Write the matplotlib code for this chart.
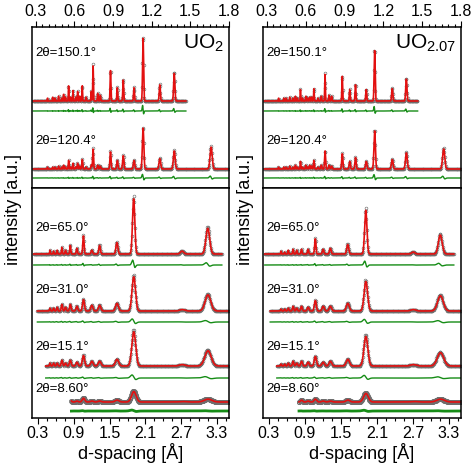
import numpy as np
import matplotlib
matplotlib.use("Agg")
import matplotlib.pyplot as plt
from matplotlib.ticker import MultipleLocator

plt.rcParams['font.family'] = ['Liberation Sans', 'DejaVu Sans']
plt.rcParams['mathtext.fontset'] = 'custom'
plt.rcParams['mathtext.rm'] = 'Liberation Sans'

# ---- data: peak d-spacing [A] and peak height [a.u.] ----
samples = ["UO$_2$", "UO$_{2.07}$"]
angles_top = ["150.1", "120.4"]
angles_bot = ["65.0", "31.0", "15.1", "8.60"]

# backscattering banks (top panels)
uo2_hi_pos = [0.39, 0.43, 0.45, 0.476, 0.50, 0.515, 0.53, 0.554, 0.57, 0.588, 0.61, 0.624,
              0.64, 0.66, 0.69, 0.73, 0.744, 0.78, 0.80, 0.879, 0.932, 0.978, 1.062,
              1.132, 1.262, 1.374, 1.66]
uo2_150_int = [3, 4, 3, 5, 3, 7, 4, 16, 4, 11, 4, 10, 5, 16, 4, 10, 37, 8, 6, 32, 14, 22, 14,
               66, 17, 29, 0]
uo2_120_int = [2, 2, 2, 3, 2, 4, 2, 9, 2, 6, 2, 6, 3, 10, 2, 4, 21, 4, 3, 18, 9, 14, 9,
               43, 11, 19, 23]

uo207_hi_pos = [0.39, 0.43, 0.45, 0.476, 0.50, 0.52, 0.535, 0.559, 0.575, 0.60, 0.615, 0.63,
                0.645, 0.663, 0.695, 0.72, 0.749, 0.78, 0.80, 0.882, 0.94, 0.984, 1.067,
                1.132, 1.268, 1.377, 1.665]
uo207_150_int = [3, 3, 3, 4, 3, 5, 3, 12, 3, 5, 3, 4, 4, 13, 3, 5, 28, 6, 5, 26, 12, 17, 12,
                 53, 13, 23, 0]
uo207_120_int = [2, 2, 2, 3, 2, 4, 2, 8, 2, 4, 2, 4, 3, 9, 2, 4, 19, 4, 3, 16, 8, 12, 8,
                 40, 10, 17, 21]

# low-angle banks (bottom panels)
uo2_lo_pos = [0.50, 0.56, 0.62, 0.70, 0.76, 0.84, 0.95, 1.06, 1.20, 1.33, 1.62, 1.90, 2.71, 3.14]
uo2_65_int = [4, 3, 4, 7, 4, 9, 6, 19, 4, 9, 12, 58, 3, 27]
uo2_31_int = [3, 3, 4, 7, 4, 7, 5, 12, 6, 6, 8, 36, 1.5, 17]
uo2_15_int = [3, 3, 3, 6, 3, 6, 4, 11, 5, 5, 7, 36, 1.5, 16]
uo2_8_int = [1, 1, 1, 2, 1, 2, 1, 4, 1, 1, 2, 11, 0.5, 3]

uo207_lo_pos = [0.50, 0.56, 0.62, 0.70, 0.76, 0.84, 0.95, 1.07, 1.20, 1.32, 1.61, 1.91, 2.70, 3.15]
uo207_65_int = [3, 2, 4, 5, 4, 5, 5, 16, 5, 6, 10, 46, 2, 20]
uo207_31_int = [2, 2, 3, 5, 3, 5, 4, 11, 5, 5, 8, 31, 1.5, 16]
uo207_15_int = [2, 2, 3, 5, 3, 5, 4, 10, 4, 5, 7, 31, 1.5, 14]
uo207_8_int = [1, 1, 1, 2, 1, 2, 1, 3, 1, 1, 2, 9, 0.5, 3]

# measured d-range of each bank
top_range = {"150.1": (0.28, 1.465), "120.4": (0.28, 1.80)}
bot_range_uo2 = {"65.0": (0.23, 3.38), "31.0": (0.29, 3.50), "15.1": (0.43, 3.50), "8.60": (0.86, 3.50)}
bot_range_uo207 = {"65.0": (0.23, 3.38), "31.0": (0.32, 3.50), "15.1": (0.43, 3.50), "8.60": (0.80, 3.50)}

# relative peak width (sigma / d) of each bank
rel_width = {"150.1": 0.0035, "120.4": 0.005, "65.0": 0.010, "31.0": 0.015, "15.1": 0.017, "8.60": 0.020}


def profile(x, pos, amp, rw, shift=0.0):
    y = np.zeros_like(x)
    for p, a in zip(pos, amp):
        s = rw * p
        y += a * np.exp(-0.5 * ((x - p - shift * s) / s) ** 2)
    return y


def draw_bank(ax, label, pos, amp, drange, base, gbase, label_y, heavy=False):
    x = np.linspace(drange[0], drange[1], 2500)
    rw = rel_width[label]
    obs = profile(x, pos, amp, rw)
    calc = profile(x, pos, np.array(amp) * 0.95, rw, shift=0.15)
    diff = obs - calc
    ax.plot(x, obs + base, 'o', color='#6e6e6e', mfc='none', ms=3.0 if heavy else 2.0,
            mew=0.6 if heavy else 0.45, markevery=6, zorder=1)
    ax.plot(x, calc + base, '-', color='#e31010', lw=1.2, zorder=2)
    ax.plot(x, diff * 0.7 + gbase, '-', color='#168c16', lw=2.0 if heavy else 1.0, zorder=2)
    ax.text(0.015, label_y, "2\u03b8=" + label + "\u00b0", transform=ax.get_yaxis_transform(),
            fontsize=9.5, va='center', ha='left')


W, H = 474, 474
fig = plt.figure(figsize=(4.74, 4.74), dpi=100)


def rect(x0, x1, y0, y1):
    return [x0 / W, 1 - y1 / H, (x1 - x0) / W, (y1 - y0) / H]


columns = [
    (32, 229, uo2_hi_pos, [uo2_150_int, uo2_120_int], uo2_lo_pos,
     [uo2_65_int, uo2_31_int, uo2_15_int, uo2_8_int], bot_range_uo2, 224),
    (263, 461, uo207_hi_pos, [uo207_150_int, uo207_120_int], uo207_lo_pos,
     [uo207_65_int, uo207_31_int, uo207_15_int, uo207_8_int], bot_range_uo207, 456),
]
top_offsets = [(87, 77, 135), (19, 10, 47)]
bot_offsets = [(164, 153, 190), (107, 96, 128), (52, 40, 71), (16, 7, 29)]

for i, (x0, x1, hi_pos, hi_ints, lo_pos, lo_ints, brange, sx) in enumerate(columns):
    ax_t = fig.add_axes(rect(x0, x1, 27, 188))
    ax_b = fig.add_axes(rect(x0, x1, 188, 418))

    for lab, ints, (b, g, ly) in zip(angles_top, hi_ints, top_offsets):
        draw_bank(ax_t, lab, hi_pos, ints, top_range[lab], b, g, ly)
    for lab, ints, (b, g, ly) in zip(angles_bot, lo_ints, bot_offsets):
        draw_bank(ax_b, lab, lo_pos, ints, brange[lab], b, g, ly, heavy=(lab == "8.60"))

    ax_t.set_xlim(0.27, 1.80)
    ax_t.set_ylim(0, 161)
    ax_b.set_xlim(0.20, 3.50)
    ax_b.set_ylim(0, 230)

    ax_t.xaxis.set_minor_locator(MultipleLocator(0.05))
    ax_t.set_xticks(np.arange(0.3, 1.81, 0.3))
    ax_t.set_xticklabels(["%.1f" % v for v in np.arange(0.3, 1.81, 0.3)])
    ax_t.xaxis.tick_top()
    ax_t.tick_params(axis='x', which='both', direction='out', labelsize=11.5, pad=2)
    ax_t.tick_params(axis='x', which='major', length=4, width=0.8)
    ax_t.tick_params(axis='x', which='minor', length=2.5, width=0.8)

    ax_b.set_xticks(np.arange(0.3, 3.31, 0.6))
    ax_b.set_xticklabels(["%.1f" % v for v in np.arange(0.3, 3.31, 0.6)])
    ax_b.xaxis.set_minor_locator(MultipleLocator(0.15))
    ax_b.tick_params(axis='x', which='both', direction='out', labelsize=11.5, pad=2)
    ax_b.tick_params(axis='x', which='major', length=4, width=0.8)
    ax_b.tick_params(axis='x', which='minor', length=2.5, width=0.8)
    ax_b.set_xlabel("d-spacing [\u00c5]", fontsize=13, labelpad=1)

    for ax in (ax_t, ax_b):
        ax.set_yticks([])
        for sp in ax.spines.values():
            sp.set_linewidth(1.1)

    ax_t.text(sx / W, 1 - 48 / H, samples[i], transform=fig.transFigure,
              fontsize=15, ha='right', va='baseline')
    fig.text((x0 - 18) / W, 1 - 210 / H, "intensity [a.u.]", rotation=90,
             fontsize=13, ha='center', va='center')

fig.savefig("out.png", dpi=100)
